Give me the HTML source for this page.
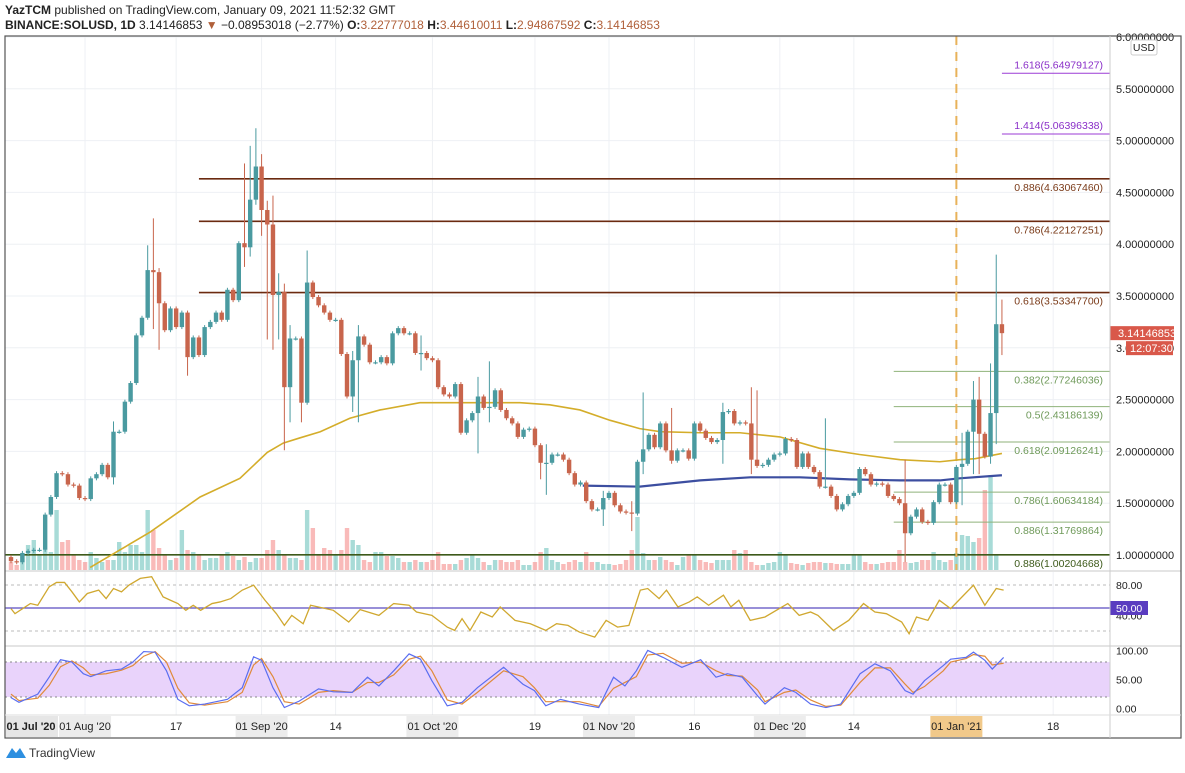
<!DOCTYPE html>
<html><head><meta charset="utf-8">
<style>
body{margin:0;background:#fff;font-family:"Liberation Sans",sans-serif;}
svg text{font-family:"Liberation Sans",sans-serif;}
</style></head>
<body>
<svg id="chart" width="1185" height="768" viewBox="0 0 1185 768" xmlns="http://www.w3.org/2000/svg">
<rect x="0" y="0" width="1185" height="768" fill="#fff"/>
<text x="5" y="14" font-size="12" fill="#222"><tspan font-weight="bold">YazTCM</tspan> published on TradingView.com, January 09, 2021 11:52:32 GMT</text>
<text x="5" y="29" font-size="12" fill="#222"><tspan font-weight="bold">BINANCE:SOLUSD, 1D</tspan> 3.14146853 <tspan fill="#b0603a">▼</tspan> −0.08953018 (−2.77%) <tspan font-weight="bold">O:</tspan><tspan fill="#b0603a">3.22777018</tspan> <tspan font-weight="bold">H:</tspan><tspan fill="#b0603a">3.44610011</tspan> <tspan font-weight="bold">L:</tspan><tspan fill="#b0603a">2.94867592</tspan> <tspan font-weight="bold">C:</tspan><tspan fill="#b0603a">3.14146853</tspan></text>
<g id="grid"></g>
<g id="volume"></g>
<g id="fibs"></g>
<g id="mas"></g>
<g id="candles"></g>
<g id="rsi"></g>
<g id="stoch"></g>
<g id="axes"></g>
<rect x="5" y="36" width="1176" height="702" fill="none" stroke="#555" stroke-width="1.2"/>
<line x1="1110" y1="36" x2="1110" y2="738" stroke="#ccc"/>
<line x1="5" y1="715" x2="1181" y2="715" stroke="#ddd"/>
<g>
<path d="M6 758 L12 748 L16 753 L20 748 L26 758 Z" fill="#2d8fe0"/>
<text x="29" y="757" font-size="12" fill="#333">TradingView</text>
</g>
</svg>
<script>
const closes=[0.94,0.93,1.02,1.04,1.05,1.05,1.39,1.56,1.79,1.78,1.68,1.67,1.55,1.54,1.74,1.78,1.87,1.75,2.19,2.19,2.48,2.66,3.12,3.29,3.75,3.73,3.43,3.17,3.38,3.20,3.34,2.91,3.10,2.93,3.20,3.25,3.34,3.27,3.56,3.46,4.01,3.97,4.43,4.75,4.33,4.19,3.51,3.54,2.62,3.09,3.09,2.47,3.63,3.49,3.41,
3.34,3.27,3.27,2.94,2.53,2.88,3.11,3.03,2.86,2.86,2.91,2.85,3.14,3.19,3.14,3.14,2.95,2.95,2.90,2.88,2.62,2.55,2.53,2.65,2.18,2.30,2.37,2.53,2.42,2.43,2.59,2.40,2.32,2.27,2.14,2.21,2.22,2.06,1.89,1.89,1.97,1.97,1.92,1.79,1.68,1.70,1.52,1.44,1.44,1.55,1.60,1.48,1.42,1.41,1.40,1.90,
2.02,2.16,2.04,2.27,2.01,1.91,2.01,2.01,1.93,2.27,2.20,2.13,2.09,2.11,2.38,2.39,2.27,2.28,2.27,1.92,1.86,1.87,1.92,1.97,1.98,2.12,2.11,1.85,1.98,1.85,1.80,1.66,1.66,1.57,1.44,1.49,1.57,1.60,1.83,1.78,1.68,1.69,1.68,1.57,1.54,1.50,1.21,1.37,1.44,1.32,1.31,1.51,1.68,1.68,1.51,1.85,
1.88,2.19,2.50,2.17,1.95,2.37,3.2278,3.14146853];
const firstOpen=0.98;
const wickIdx=[18,24,25,26,31,41,42,43,44,45,46,47,48,49,51,52,60,61,72,79,82,84,93,94,104,109,111,116,125,130,131,143,157,167,169,170,172,173,174];
const wickHi=[2.27,3.97,4.23,3.75,3.3,4.76,4.93,5.10,4.85,4.4,4.45,3.7,3.6,3.2,3.0,3.92,2.95,3.2,3.1,2.6,2.7,2.85,2.05,2.05,1.6,1.5,2.55,2.4,2.45,2.6,2.57,2.3,1.9,2.16,2.66,2.7,2.83,3.88,3.446];
const wickLo=[1.7,3.4,3.2,3.0,2.75,3.8,3.9,4.4,4.1,3.1,3.0,3.1,2.03,2.3,2.3,2.6,2.4,2.3,2.8,2.2,2.0,2.3,1.75,1.6,1.3,1.25,1.8,1.9,1.9,1.8,1.9,1.7,0.95,1.5,1.8,1.8,1.9,2.09,2.949];
const volumes=[8,5,15,25,30,15,20,18,60,28,30,15,10,8,18,12,8,10,10,28,18,25,25,18,60,40,22,15,10,12,40,20,18,15,10,12,12,16,18,14,10,13,8,12,12,20,30,20,15,12,12,10,60,
42,15,22,20,15,20,42,30,25,10,8,18,18,14,14,12,8,8,10,8,8,10,18,6,6,6,10,12,15,12,8,5,10,10,8,8,10,5,5,8,18,22,10,8,6,8,10,8,18,8,8,6,6,5,6,10,20,
53,17,10,10,13,10,8,5,13,16,15,10,8,7,10,10,10,20,17,20,8,5,5,7,8,18,15,7,6,5,7,8,8,7,7,6,6,6,15,15,8,6,6,7,8,8,20,8,7,8,10,10,18,10,8,10,
17,35,34,28,32,80,95,15];
const maIdx=[13.9,24.4,33.2,40.2,45,47.8,50.7,54.3,59.5,64.8,71.8,77.1,82.4,89.4,94.6,99.9,105.2,110.4,114,121,128,135,142,149,156.1,163.1,166.6,169.3,174];
const maVals=[0.88,1.22,1.56,1.74,1.99,2.08,2.13,2.19,2.32,2.40,2.47,2.47,2.47,2.47,2.45,2.40,2.30,2.22,2.19,2.18,2.18,2.14,2.03,1.97,1.92,1.90,1.92,1.93,1.98];
const ma200Idx=[100.4,110.4,121,129.8,138.5,147.3,156.1,163.1,166.6,174];
const ma200Vals=[1.67,1.66,1.72,1.75,1.75,1.73,1.72,1.72,1.74,1.77];
const rsiIdx=[0,0.7,3.4,4.7,6.7,8,9.4,10.7,12,13.4,15.4,16.7,18,19.4,20.7,22.7,24.7,26.7,28,29.3,30.7,32,33.3,35.3,36.7,38.6,40.6,42.6,44.6,46.6,48,49.3,51.3,52.6,56.6,59.3,61.3,64.6,67.2,69.9,71.2,73.9,76.6,77.9,79.2,80.6,82.5,84.5,85.9,88.5,91.2,93.9,95.8,97.8,99.8,102.5,104.5,106.5,108.5,110.5,111.8,113.8,115.1,117.1,119.1,120.5,122.5,125.1,126.4,127.8,129.8,132.4,136.4,138.4,140.4,141.7,144.4,147.1,149.7,151.7,153.7,156.4,157.7,159,161,163,165,167,169,171,173,174.3];
const rsiVals=[49.2,42.6,55.8,53.6,77.6,83.3,83.3,71.1,57.9,68.9,73.3,62.3,75.4,71.1,79.8,88.6,90.8,64.5,60.1,55.8,47.0,53.6,47.0,55.8,57.9,62.3,73.3,79.8,60.1,42.6,27.3,40.4,29.5,53.6,47.0,31.7,47.9,40.4,55.8,53.6,44.8,40.4,25.1,20.8,36.1,20.8,44.8,38.3,51.4,33.9,29.5,20.8,29.5,27.3,18.6,12.0,33.9,25.1,27.3,73.3,75.4,62.3,73.3,51.4,57.9,64.5,53.6,66.7,51.4,60.1,33.9,38.3,55.8,40.4,44.8,40.4,20.8,33.9,55.8,44.8,42.6,31.7,16.4,38.3,33.9,60.1,49.2,64.5,79.8,53.6,75.4,73.3];
const stIdx=[0,1.4,4.7,6.7,8.7,10.7,12.7,14,16.7,19.4,21.4,23.3,25.3,27.3,29.3,31.3,34,38,40.6,42.6,44,46,48,50.6,54,56.6,59.9,62.6,64.6,67.2,69.9,71.9,73.9,76.6,79.2,81.9,86.5,89.9,91.9,93.9,96.5,99.8,103.2,105.8,107.8,109.8,111.8,114.5,117.8,121.1,123.8,125.8,128.4,131.1,132.4,135.8,137.8,140.4,143.1,145.7,149.1,151.7,154.4,157,158.4,160.4,163.7,165,167.7,169,171,172.3,174.3];
const stK=[19,11,25,54,84,80,60,55,65,68,80,98,97,65,16,5,8,16,36,89,83,36,2,13,34,29,28,54,39,65,94,85,48,5,11,36,71,42,31,5,16,8,2,54,39,65,100,88,71,84,54,60,54,22,8,36,28,8,2,8,60,77,65,31,25,48,74,85,88,97,83,68,88];
const stD=[25,14,18,40,72,82,70,58,60,66,74,90,98,80,35,10,6,12,28,75,86,55,12,8,28,31,28,45,45,58,85,90,65,15,8,28,65,55,36,12,12,12,4,35,45,55,92,95,78,80,65,57,56,32,12,28,32,15,4,6,45,70,70,42,28,38,65,80,86,93,90,75,78];
const dateIdx=[13,29,44,57,74,92,105,120,135,148,166,183];
const dateLabels=["01 Aug '20","17","01 Sep '20","14","01 Oct '20","19","01 Nov '20","16","01 Dec '20","14","01 Jan '21","18"];
const priceTicks=[6,5.5,5,4.5,4,3.5,3,2.5,2,1.5,1];
const fibLevels=[5.64979127,5.06396338,4.63067460,4.22127251,3.53347700,2.77246036,2.43186139,2.09126241,1.60634184,1.31769864,1.00204668];
const fibRatios=["1.618","1.414","0.886","0.786","0.618","0.382","0.5","0.618","0.786","0.886","0.886"];
const fibStartIdx=[174,174,33,33,33,155,155,155,155,155,-1];

const NS="http://www.w3.org/2000/svg";
const X0=11,STEP=5.695;
const xOf=i=>X0+i*STEP;
const yP=p=>555-(p-1)*103.6;
const yR=v=>608-(v-50)*0.767;
const yS=v=>708.7-v*0.583;
const yV=v=>570-v;
function mk(tag,attrs,parent){const e=document.createElementNS(NS,tag);for(const k in attrs)e.setAttribute(k,attrs[k]);parent.appendChild(e);return e;}
const G=id=>document.getElementById(id);

const grid=G('grid');
dateIdx.forEach(d=>{const l=mk('line',{x1:xOf(d),x2:xOf(d),y1:36,y2:715,stroke:'#eef0f4'},grid);

});
priceTicks.forEach(p=>{const l=mk('line',{x1:5,x2:1110,y1:yP(p),y2:yP(p),stroke:'#eef0f4'},grid);

});
mk('line',{x1:5,x2:1181,y1:571,y2:571,stroke:'#e4e4e4','stroke-width':2},grid);
mk('line',{x1:5,x2:1181,y1:646,y2:646,stroke:'#e4e4e4','stroke-width':2},grid);

const opens=closes.map((c,i)=>i===0?firstOpen:closes[i-1]);

const vg=G('volume');
closes.forEach((c,i)=>{const v=volumes[i]||0;const up=c>=opens[i];
const r=mk('rect',{x:xOf(i)-2.2,y:yV(v),width:4.4,height:v,fill:up?'rgba(38,166,154,0.4)':'rgba(239,83,80,0.4)'},vg);

});

const fg=G('fibs');
fibLevels.forEach((lv,k)=>{
 const purple=k<2, brown=k>=2&&k<5, last=k===10;
 const col=purple?'#9b3bd6':brown?'#6b2a10':last?'#3d5a1a':'#8fb27a';
 const x1=fibStartIdx[k]<0?5:xOf(fibStartIdx[k]);
 const l=mk('line',{x1:x1,x2:1110,y1:yP(lv),y2:yP(lv),stroke:col,'stroke-width':brown||last?1.6:1},fg);
 
 
 const ty=purple?yP(lv)-5:yP(lv)+12;
 const t=mk('text',{x:1103,y:ty,'text-anchor':'end','font-size':10.5,fill:purple?'#8a2fc8':brown?'#7a3a18':last?'#3d5a1a':'#6f9a5a'},fg);
 t.textContent=fibRatios[k]+'('+lv.toFixed(8)+')';
 
 
});
const vl=mk('line',{x1:xOf(166),x2:xOf(166),y1:36,y2:570,stroke:'#e8b25a','stroke-width':2,'stroke-dasharray':'9,7'},fg);



const mg=G('mas');
const p1=mk('polyline',{points:maIdx.map((d,i)=>xOf(d)+','+Math.min(yP(maVals[i]),570)).join(' '),fill:'none',stroke:'#d4ad2a','stroke-width':1.6},mg);


const p2=mk('polyline',{points:ma200Idx.map((d,i)=>xOf(d)+','+yP(ma200Vals[i])).join(' '),fill:'none',stroke:'#3c4ea0','stroke-width':2.2},mg);



const cg=G('candles');
closes.forEach((c,i)=>{
 const o=opens[i];const up=c>=o;const col=up?'#4a9aa0':'#c8654c';
 const w=wickIdx.indexOf(i);
 const hi=w>=0?Math.max(wickHi[w],o,c):Math.max(o,c);
 const lo=w>=0?Math.min(wickLo[w],o,c):Math.min(o,c);
 const x=xOf(i);
 const wl=mk('line',{x1:x,x2:x,y1:yP(hi)-2,y2:yP(lo)+2,stroke:col,'stroke-width':1},cg);
 
 
 const top=yP(Math.max(o,c)),bot=yP(Math.min(o,c));
 const b=mk('rect',{x:x-2.2,y:top,width:4.4,height:Math.max(bot-top,1.2),fill:col},cg);
 
 
});

const rg=G('rsi');
[80,20].forEach(v=>{mk('line',{x1:5,x2:1110,y1:yR(v),y2:yR(v),stroke:'#bbb','stroke-dasharray':'3,3'},rg);});
const l50=mk('line',{x1:5,x2:1110,y1:yR(50),y2:yR(50),stroke:'#5a4cc0','stroke-width':1.2},rg);


const rl=mk('polyline',{points:rsiIdx.map((d,i)=>xOf(d)+','+yR(rsiVals[i])).join(' '),fill:'none',stroke:'#d0a830','stroke-width':1.3},rg);



const sg=G('stoch');
const band=mk('rect',{x:5,y:yS(80),width:1105,height:yS(20)-yS(80),fill:'#e9d3fb'},sg);


[80,20].forEach(v=>{mk('line',{x1:5,x2:1110,y1:yS(v),y2:yS(v),stroke:'#888','stroke-dasharray':'2,3'},sg);});
const dl=mk('polyline',{points:stIdx.map((d,i)=>xOf(d)+','+yS(stD[i])).join(' '),fill:'none',stroke:'#e08a3a','stroke-width':1.2},sg);


const kl=mk('polyline',{points:stIdx.map((d,i)=>xOf(d)+','+yS(stK[i])).join(' '),fill:'none',stroke:'#5b6ef0','stroke-width':1.2},sg);



const ag=G('axes');
priceTicks.forEach(p=>{const t=mk('text',{x:1116,y:yP(p)+4,'font-size':11,fill:'#222'},ag);t.textContent=p.toFixed(8);

});
const ub=mk('rect',{x:1131,y:40,width:26,height:15,rx:2,fill:'#fff',stroke:'#ccc'},ag);


const ut=mk('text',{x:1144,y:51,'text-anchor':'middle','font-size':10.5,fill:'#222'},ag);ut.textContent='USD';
const lastC=closes[closes.length-1];
const pt=mk('rect',{x:1110,y:yP(lastC)-7,width:64,height:14,fill:'#d9584a'},ag);


const ptt=mk('text',{x:1118,y:yP(lastC)+4,'font-size':11,fill:'#fff'},ag);ptt.textContent=lastC.toFixed(8);
const ct=mk('rect',{x:1126,y:yP(lastC)+8,width:47,height:14,fill:'#d9584a'},ag);


const ctt=mk('text',{x:1130,y:yP(lastC)+19,'font-size':11,fill:'#fff'},ag);ctt.textContent='12:07:30';
[[80,'80.00'],[40,'40.00']].forEach(a=>{const t=mk('text',{x:1116,y:yR(a[0])+4,'font-size':10.5,fill:'#222'},ag);t.textContent=a[1];});
const rb=mk('rect',{x:1110,y:yR(50)-7,width:38,height:14,fill:'#5a3cc0'},ag);


const rbt=mk('text',{x:1116,y:yR(50)+4,'font-size':10.5,fill:'#fff'},ag);rbt.textContent='50.00';
[[100,'100.00'],[50,'50.00'],[0,'0.00']].forEach(a=>{const t=mk('text',{x:1116,y:yS(a[0])+4,'font-size':10.5,fill:'#222'},ag);t.textContent=a[1];

});
const j0=mk('rect',{x:6,y:716,width:52,height:21,fill:'#e6e6e6'},ag);
const j0t=mk('text',{x:31,y:730,'text-anchor':'middle','font-size':11,'font-weight':'bold',fill:'#222'},ag);j0t.textContent="01 Jul '20";


dateIdx.forEach((d,k)=>{
 const lab=dateLabels[k];const x=xOf(d);
 if(lab.length>3){const hl=lab==="01 Jan '21";
  const r=mk('rect',{x:x-26,y:716,width:52,height:21,fill:hl?'#f1c98a':'#ececec'},ag);
  
  }
 const t=mk('text',{x:x,y:730,'text-anchor':'middle','font-size':11,fill:'#222'},ag);t.textContent=lab;
 
 
});
</script>
</body></html>
